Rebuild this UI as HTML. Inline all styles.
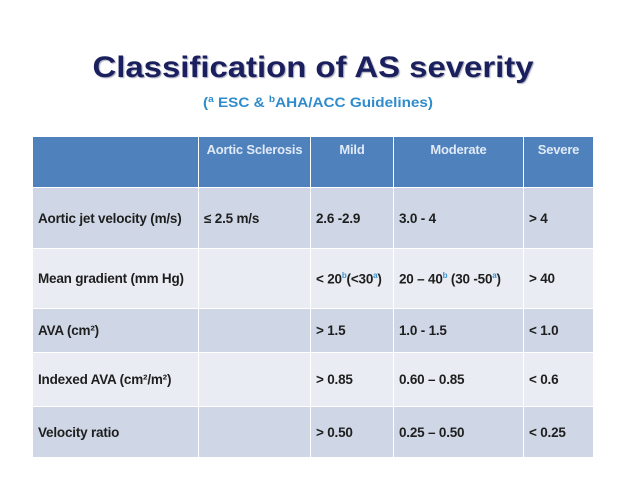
<!DOCTYPE html>
<html><head><meta charset="utf-8"><style>
body{margin:0;width:638px;height:479px;background:#fff;position:relative;overflow:hidden;font-family:"Liberation Sans",sans-serif;}
#title{position:absolute;left:0;top:48px;}
table{position:absolute;left:32px;top:136px;border-collapse:collapse;table-layout:fixed;}
td,th{border:1.5px solid #fff;font-size:13.5px;font-weight:bold;color:#1e1e1e;padding:0 0 0 5px;text-align:left;white-space:nowrap;letter-spacing:-0.2px;}
th{background:#4f81bd;color:#e0eaf6;vertical-align:top;padding-top:5px;text-align:center;padding-left:0;font-size:13px;}
tr.d td{background:#cfd7e6;}
tr.l td{background:#e9edf3;}
sup{font-size:8px;color:#3a8fd0;}
</style></head><body>
<svg id="title" width="638" height="70">
<text x="313" y="29" text-anchor="middle" textLength="441" lengthAdjust="spacingAndGlyphs" font-family="Liberation Sans" font-weight="bold" font-size="30" fill="#1a1f5e" style="text-shadow:1px 1px 1px #aab">Classification of AS severity</text>
<text x="318" y="59" text-anchor="middle" textLength="230" lengthAdjust="spacingAndGlyphs" font-family="Liberation Sans" font-weight="bold" font-size="13.5" fill="#2f8ccc">(<tspan font-size="9" dy="-5">a</tspan><tspan dy="5"> ESC &amp; </tspan><tspan font-size="9" dy="-5">b</tspan><tspan dy="5">AHA/ACC  Guidelines)</tspan></text>
</svg>
<table>
<colgroup><col style="width:166px"><col style="width:112px"><col style="width:83px"><col style="width:130px"><col style="width:70px"></colgroup>
<tr style="height:51px"><th></th><th>Aortic Sclerosis</th><th>Mild</th><th>Moderate</th><th>Severe</th></tr>
<tr class="d" style="height:61px"><td>Aortic jet velocity (m/s)</td><td>≤ 2.5 m/s</td><td>2.6 -2.9</td><td>3.0 - 4</td><td>&gt; 4</td></tr>
<tr class="l" style="height:60px"><td>Mean gradient (mm Hg)</td><td></td><td>&lt; 20<sup>b</sup>(&lt;30<sup>a</sup>)</td><td>20 – 40<sup>b</sup> (30 -50<sup>a</sup>)</td><td>&gt; 40</td></tr>
<tr class="d" style="height:44px"><td>AVA (cm²)</td><td></td><td>&gt; 1.5</td><td>1.0 - 1.5</td><td>&lt; 1.0</td></tr>
<tr class="l" style="height:54px"><td>Indexed AVA (cm²/m²)</td><td></td><td>&gt; 0.85</td><td>0.60 – 0.85</td><td>&lt; 0.6</td></tr>
<tr class="d" style="height:51px"><td>Velocity ratio</td><td></td><td>&gt; 0.50</td><td>0.25 – 0.50</td><td>&lt; 0.25</td></tr>
</table>
</body></html>
